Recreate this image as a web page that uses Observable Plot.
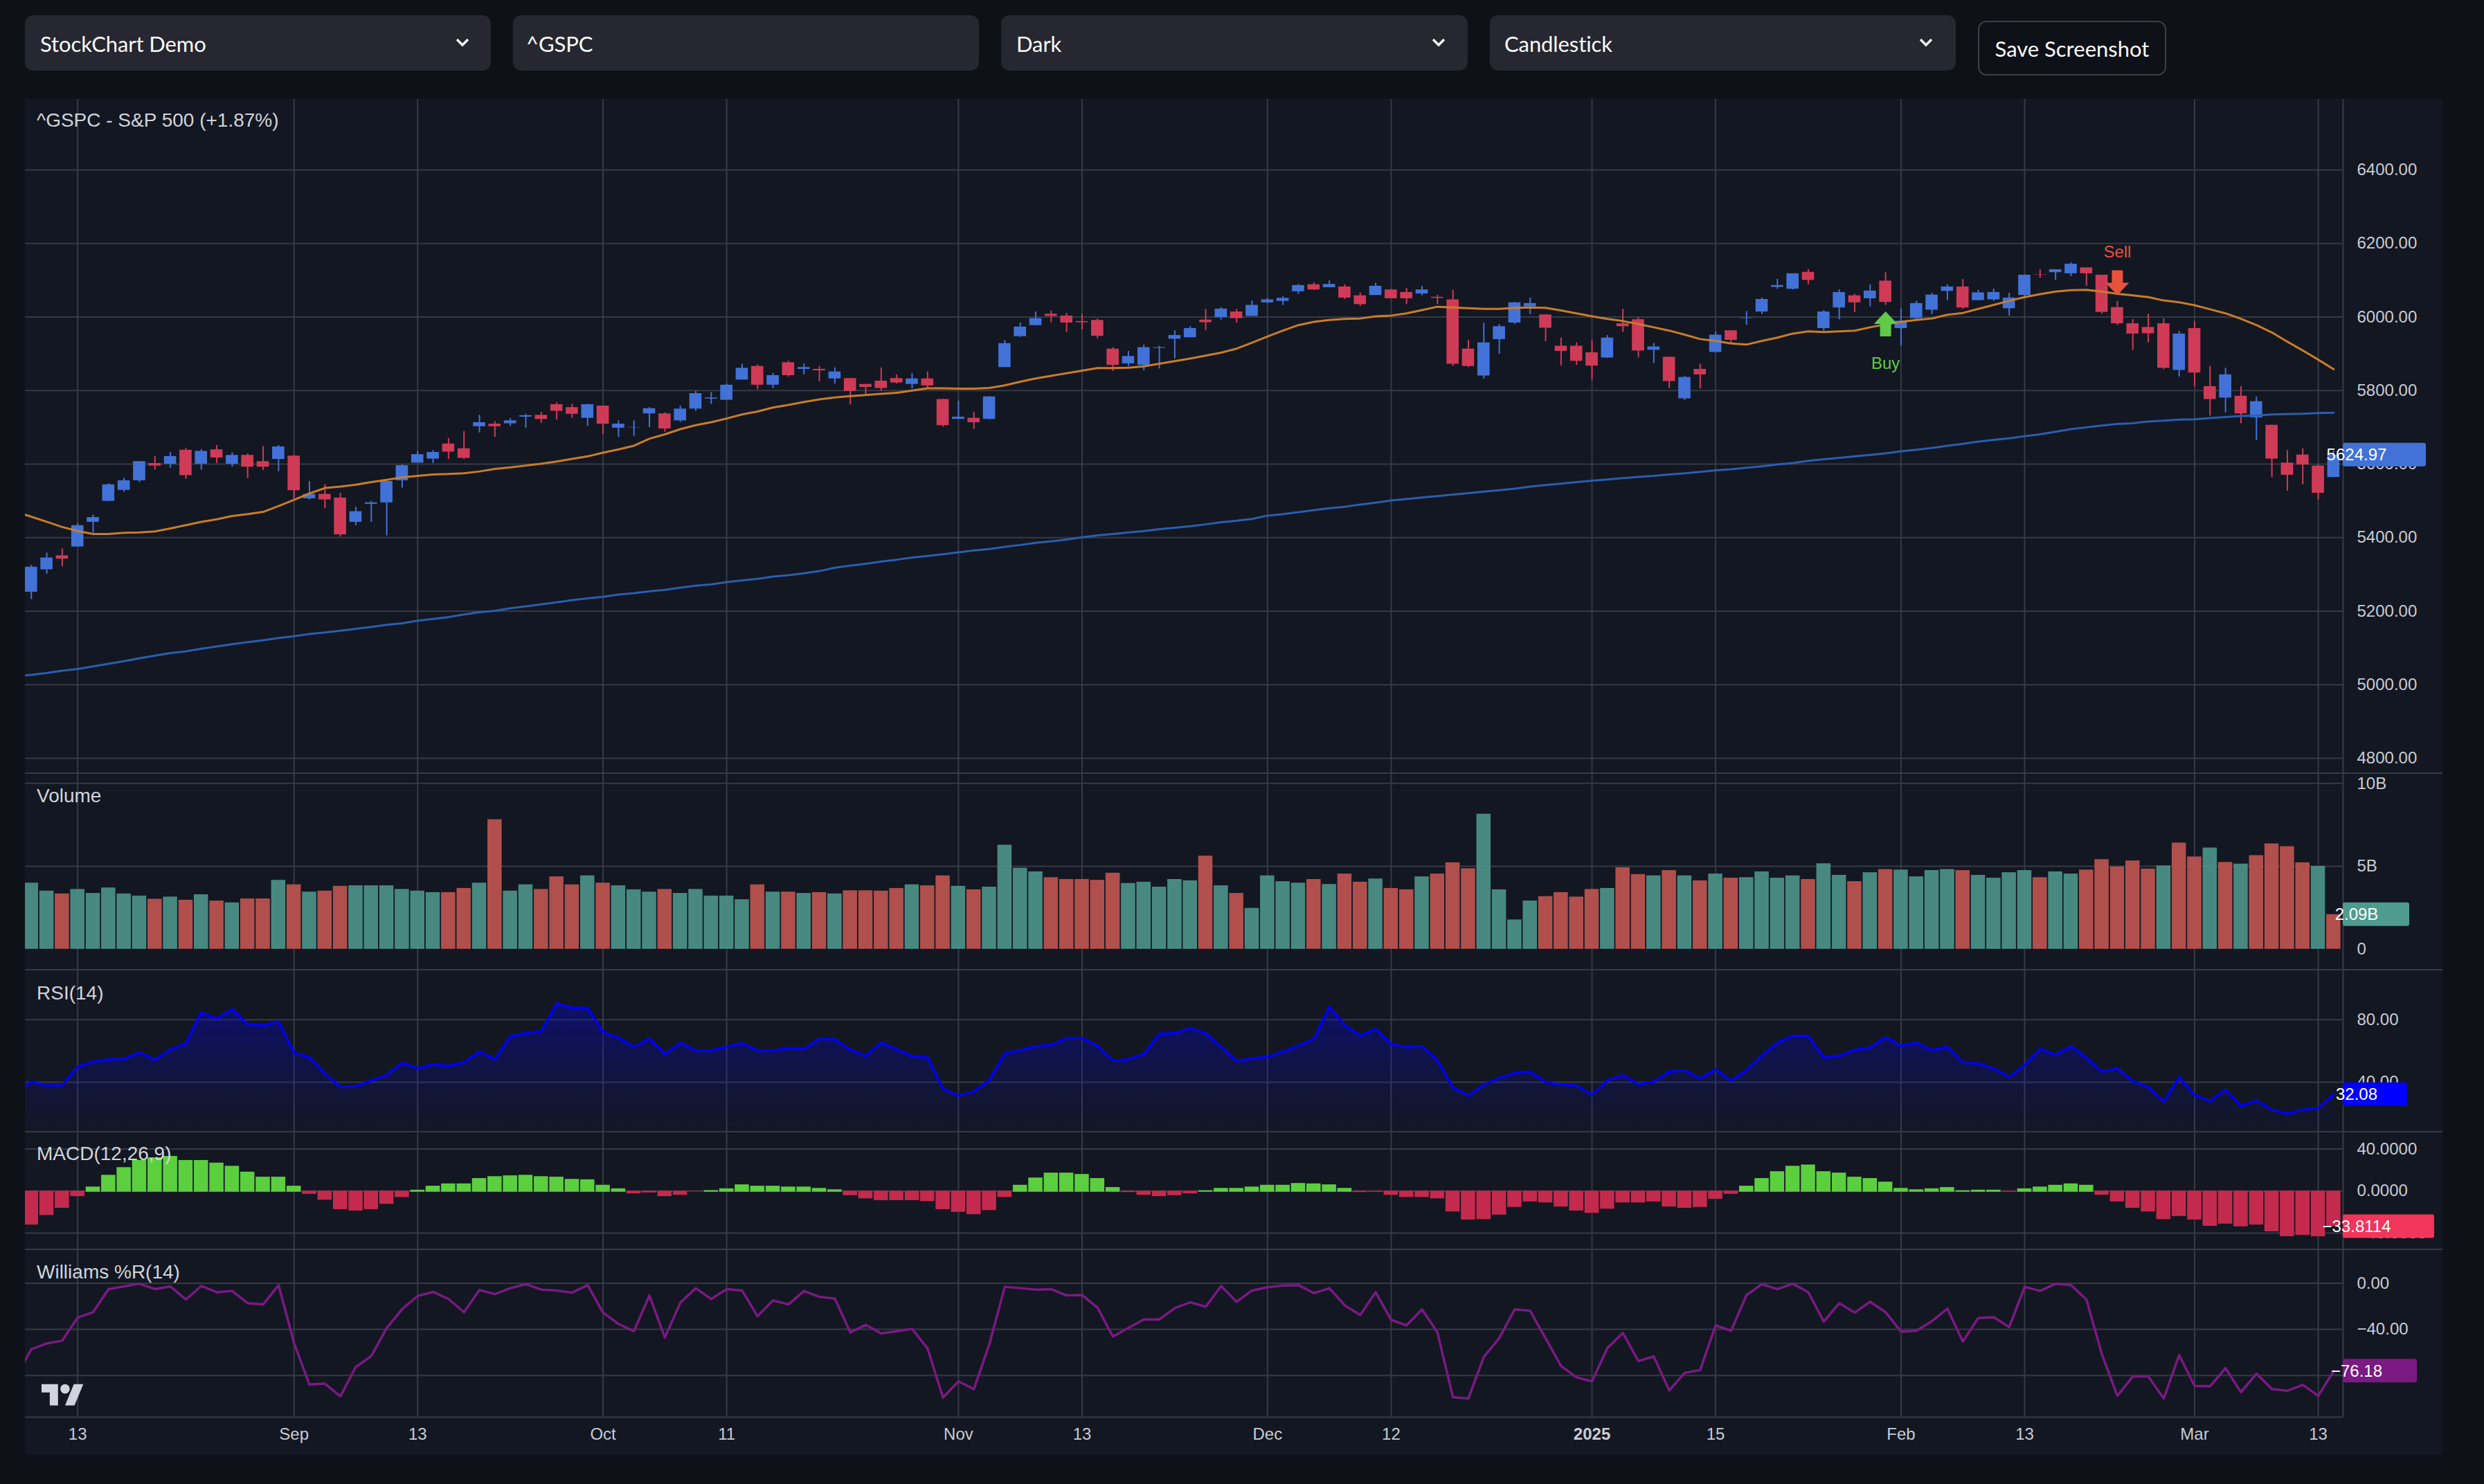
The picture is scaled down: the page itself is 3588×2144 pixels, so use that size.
<!DOCTYPE html>
<html>
<head>
<meta charset="utf-8">
<script src="https://cdn.jsdelivr.net/npm/d3@7"></script>
<script src="https://cdn.jsdelivr.net/npm/@observablehq/plot@0.6"></script>
<style>
html,body{margin:0;padding:0;background:#0e1117;width:3588px;height:2144px;overflow:hidden}
#page{position:relative;width:3588px;height:2144px}
.ctl{position:absolute;background:#262730;border-radius:12px;top:22px;height:80px;color:#fafafa;font:31px/82px Lato,sans-serif;box-sizing:border-box;letter-spacing:-.1px}
.ctl span{position:absolute;white-space:nowrap}
.ctl svg{position:absolute;top:32px}
#btn{position:absolute;left:2857px;top:30px;width:272px;height:79px;box-sizing:border-box;border:2px solid rgba(250,250,250,.2);border-radius:12px;color:#fafafa;font:31px/76px Lato,sans-serif;text-align:center}
#panel{position:absolute;left:36px;top:143px;width:3492px;height:1959px;background:#131722}
.pane{position:absolute;left:36px}
.sep{position:absolute;left:36px;width:3492px;height:2px;background:#363a45}
.title{position:absolute;left:53px;color:#d1d4dc;font:28px/32px "Liberation Sans",sans-serif;white-space:nowrap}
#logo{position:absolute;left:60px;top:1993px}
</style>
</head>
<body>
<div id="page">
  <div class="ctl" style="left:36px;width:673px"><span style="left:22px">StockChart Demo</span><svg style="left:622px" width="20" height="16"><path d="M2 3l8 8 8-8" fill="none" stroke="#fafafa" stroke-width="3.4"/></svg></div>
  <div class="ctl" style="left:741px;width:673px"><span style="left:19px">^GSPC</span></div>
  <div class="ctl" style="left:1446px;width:674px"><span style="left:22px">Dark</span><svg style="left:622px" width="20" height="16"><path d="M2 3l8 8 8-8" fill="none" stroke="#fafafa" stroke-width="3.4"/></svg></div>
  <div class="ctl" style="left:2152px;width:673px"><span style="left:21px">Candlestick</span><svg style="left:620px" width="20" height="16"><path d="M2 3l8 8 8-8" fill="none" stroke="#fafafa" stroke-width="3.4"/></svg></div>
  <div id="btn">Save Screenshot</div>
  <div id="panel"></div>
</div>
<script>
// Daily OHLC, first bar 8 Aug 2024, last bar 14 Mar 2025
const opens = [5252,5313,5351,5375,5442,5499,5529,5555,5602,5600,5638,5600,5639,5600,5624,5607,5613,5622,5506,5518,5508,5442,5491,5495,5555,5603,5614,5655,5642,5702,5709,5710,5728,5733,5762,5754,5725,5758,5698,5699,5737,5737,5718,5750,5777,5774,5829,5866,5815,5876,5858,5858,5832,5833,5817,5826,5833,5817,5832,5776,5722,5725,5722,5863,5947,5977,6008,6003,5988,5991,5913,5873,5869,5915,5940,5944,5992,5999,6014,6002,6039,6043,6069,6088,6080,6082,6058,6059,6074,6067,6063,6054,6047,5913,5840,5939,5984,6028,6006,5921,5921,5903,5889,5982,5993,5910,5891,5778,5858,5904,5963,5996,6014,6081,6076,6122,5969,6025,6058,6050,6098,5969,5996,6019,6070,6082,6045,6047,6023,6059,6115,6121,6118,6134,6114,6026,5982,5972,5982,5855,5969,5811,5780,5785,5726,5706,5603,5625,5595,5564];
const highs = [5325,5358,5370,5438,5462,5547,5562,5607,5621,5632,5643,5640,5651,5631,5628,5648,5651,5624,5553,5544,5521,5483,5499,5553,5599,5635,5637,5670,5689,5733,5716,5724,5736,5741,5767,5763,5763,5758,5718,5718,5754,5740,5758,5798,5795,5818,5872,5870,5847,5880,5873,5866,5862,5833,5817,5862,5843,5847,5851,5776,5772,5741,5784,5936,5984,6014,6017,6010,6007,5995,5917,5907,5924,5921,5963,5974,6021,6026,6021,6044,6051,6055,6089,6093,6099,6088,6066,6092,6075,6078,6084,6059,6073,5937,5984,5980,6040,6052,6007,5943,5930,5936,5950,6021,5999,5928,5891,5839,5872,5959,5963,6015,6052,6103,6118,6129,6018,6074,6062,6088,6121,6022,6043,6065,6088,6102,6073,6076,6065,6115,6129,6129,6148,6134,6114,6043,5993,6008,5995,5961,5988,5866,5861,5811,5783,5706,5637,5642,5598,5636];
const lows = [5232,5301,5321,5375,5413,5498,5524,5550,5584,5589,5559,5584,5602,5592,5561,5583,5580,5506,5503,5479,5402,5433,5442,5405,5535,5603,5602,5613,5613,5685,5673,5703,5698,5711,5720,5725,5703,5681,5673,5676,5700,5687,5714,5744,5763,5774,5829,5803,5806,5837,5843,5824,5818,5761,5785,5799,5818,5805,5806,5701,5722,5695,5721,5863,5945,5976,5985,5959,5965,5941,5852,5866,5854,5859,5887,5944,5963,5992,5984,6002,6037,6032,6062,6073,6080,6048,6029,6059,6050,6034,6058,6034,5866,5863,5832,5899,5980,6007,5933,5867,5869,5829,5888,5959,5889,5874,5806,5773,5805,5904,5928,5978,6007,6076,6074,6088,5962,5993,6013,6028,6032,5922,5991,6007,6045,6021,6044,6043,6003,6051,6106,6100,6110,6084,6008,5977,5909,5930,5857,5837,5810,5731,5740,5710,5665,5564,5527,5544,5503,5564];
const closes = [5320,5345,5342,5433,5455,5544,5555,5607,5595,5621,5569,5635,5617,5624,5592,5592,5647,5528,5518,5503,5408,5471,5495,5553,5596,5626,5632,5633,5616,5713,5702,5718,5732,5722,5744,5736,5762,5709,5709,5700,5751,5696,5750,5792,5780,5815,5861,5815,5841,5841,5863,5854,5851,5798,5809,5806,5821,5832,5813,5705,5728,5713,5783,5928,5973,5996,6002,5984,5985,5948,5869,5893,5917,5917,5950,5969,5985,6022,5996,6032,6047,6051,6086,6074,6089,6052,6034,6084,6050,6050,6074,6051,5872,5866,5930,5974,6039,6037,5970,5907,5880,5867,5943,5974,5908,5919,5825,5836,5843,5951,5937,5997,6048,6086,6118,6100,6014,6067,6039,6071,6040,5989,6037,6060,6082,6025,6066,6067,6052,6114,6114,6129,6144,6118,6013,5982,5954,5955,5861,5954,5848,5776,5843,5737,5770,5614,5570,5598,5521,5625];
// Moving averages; the first value belongs to the bar before the first visible candle
const maFast = [5470,5457,5443,5429,5418,5410,5410,5413,5414,5417,5425,5434,5443,5450,5459,5464,5470,5486,5503,5520,5535,5539,5544,5551,5557,5564,5568,5572,5573,5575,5580,5587,5591,5596,5601,5607,5614,5621,5631,5640,5650,5669,5681,5695,5706,5714,5724,5735,5743,5754,5761,5769,5776,5781,5785,5788,5791,5794,5800,5806,5806,5805,5805,5807,5814,5824,5833,5840,5847,5854,5861,5861,5862,5866,5873,5880,5887,5895,5903,5914,5930,5947,5963,5978,5987,5992,5995,5996,6002,6004,6010,6019,6028,6026,6024,6022,6022,6025,6026,6025,6018,6010,6002,5995,5989,5981,5972,5963,5952,5940,5935,5928,5925,5935,5944,5955,5961,5959,5961,5963,5972,5980,5987,5992,5996,6006,6011,6022,6033,6044,6054,6062,6069,6073,6074,6069,6063,6059,6054,6045,6040,6032,6021,6010,5995,5978,5958,5933,5909,5884,5858];
const maSlow = [5023,5027,5032,5038,5043,5050,5057,5064,5072,5079,5086,5091,5098,5104,5110,5116,5121,5127,5132,5138,5142,5147,5152,5157,5163,5167,5174,5179,5184,5191,5197,5201,5208,5213,5219,5224,5230,5235,5239,5245,5249,5254,5258,5264,5269,5273,5279,5284,5288,5294,5298,5303,5309,5318,5324,5329,5335,5340,5346,5350,5355,5360,5365,5369,5375,5380,5386,5390,5395,5401,5406,5410,5414,5418,5423,5427,5431,5436,5442,5446,5451,5460,5464,5469,5475,5480,5484,5490,5495,5501,5505,5509,5513,5517,5521,5525,5529,5533,5539,5543,5547,5551,5555,5558,5562,5565,5568,5572,5575,5579,5583,5586,5590,5594,5599,5603,5609,5613,5617,5621,5625,5629,5635,5639,5644,5650,5655,5661,5666,5670,5676,5681,5688,5695,5700,5705,5709,5711,5716,5718,5721,5722,5725,5728,5731,5732,5735,5736,5737,5739,5740];
// Volume in billions and its bar colour class (T = teal, R = red)
const volumes = [3.99,3.51,3.34,3.61,3.37,3.70,3.34,3.21,3.02,3.15,2.96,3.29,2.91,2.80,3.04,3.04,4.16,3.89,3.45,3.51,3.80,3.83,3.83,3.83,3.61,3.51,3.42,3.42,3.67,3.99,7.82,3.51,3.89,3.61,4.37,3.89,4.43,3.99,3.83,3.59,3.45,3.61,3.37,3.61,3.21,3.21,2.99,3.89,3.45,3.45,3.37,3.42,3.34,3.53,3.53,3.51,3.67,3.89,3.83,4.43,3.80,3.59,3.75,6.28,4.89,4.67,4.32,4.21,4.21,4.16,4.59,3.97,4.05,3.75,4.21,4.13,5.62,3.83,3.37,2.47,4.43,4.08,3.99,4.21,3.91,4.54,4.05,4.24,3.67,3.59,4.37,4.54,5.22,4.86,8.15,3.59,1.77,2.91,3.18,3.42,3.15,3.61,3.67,4.92,4.51,4.43,4.75,4.43,4.13,4.54,4.29,4.32,4.67,4.29,4.43,4.21,5.16,4.46,4.08,4.62,4.81,4.78,4.37,4.75,4.81,4.75,4.46,4.29,4.62,4.75,4.32,4.67,4.54,4.78,5.41,4.97,5.33,4.84,5.03,6.41,5.57,6.11,5.24,5.14,5.65,6.36,6.19,5.22,5.00,2.09];
const volumeSide = "TTRTTTTTRTRTRTRRTRTRRTTTTTTRRTRTTRRRTRTTTRTTTTTRTRTRTRRRRTRRTRTTTTRRRRRTTTTTRTRTTTTRTRRTRRTRRRTTTTRRRRTRRTRTRTRTTTTRTTRTRTTTTRTTTTRTTRRRRRTRRTRTRRRRT";
// Indicators; the first RSI and Williams value belongs to the bar before the first visible candle
const rsi = [33.6,40.3,37.7,38.0,49.9,53.0,54.5,54.8,59.1,54.2,60.9,64.9,84.6,80.6,86.7,77.1,76.2,78.8,58.8,55.9,45.5,36.8,37.4,40.9,44.6,52.2,49.0,51.3,50.4,52.5,59.7,54.5,69.3,71.3,72.5,90.4,87.5,87.5,72.2,68.4,62.6,67.8,58.0,65.2,60.3,60.3,62.6,64.9,60.3,60.3,61.5,61.2,67.8,67.3,60.9,56.8,65.2,60.9,56.5,55.7,35.7,31.3,33.9,41.2,58.3,60.3,62.9,63.8,68.1,68.1,63.2,53.6,54.5,58.0,71.0,71.3,74.5,71.3,62.6,53.6,55.1,56.2,59.4,63.2,67.8,88.1,76.5,69.6,73.9,64.6,62.3,62.9,53.9,36.5,31.3,38.3,42.6,45.8,46.7,40.0,38.3,37.7,31.9,41.2,44.3,38.6,40.3,46.7,47.5,42.3,48.1,40.9,47.5,57.1,65.2,69.6,69.6,55.7,56.8,60.6,62.0,68.7,63.2,65.2,60.3,62.6,52.5,51.9,48.7,43.2,51.0,61.2,57.4,62.9,55.4,46.7,48.7,40.6,36.8,27.5,43.2,31.6,27.8,35.1,24.6,28.1,22.3,19.7,22.3,23.2,32.08];
const macd = [-32.3,-23.2,-16.3,-5.2,3.9,15.1,22.4,29.2,31.8,33.1,29.2,29.2,26.7,23.7,18.1,13.3,13.3,4.7,-3.0,-8.6,-17.6,-18.9,-17.6,-12.5,-6.0,0.9,4.7,6.9,6.9,12.0,13.8,14.6,15.1,13.8,13.3,11.2,10.8,5.6,2.2,-2.6,-1.7,-5.2,-3.9,-0.4,0.5,2.2,6.0,4.7,4.7,3.9,3.9,2.6,1.3,-4.3,-7.3,-9.0,-9.0,-9.0,-9.9,-17.6,-20.2,-22.4,-18.5,-6.0,5.6,12.5,17.2,17.2,15.9,12.0,3.4,-1.3,-3.9,-5.2,-4.3,-2.6,0.4,2.6,2.6,3.9,5.6,5.6,7.3,6.9,6.0,2.6,-1.3,-0.9,-3.9,-6.0,-6.0,-7.3,-19.8,-27.5,-27.1,-22.8,-15.5,-10.3,-11.2,-15.1,-18.9,-21.1,-17.2,-11.2,-11.2,-10.3,-15.1,-16.3,-15.5,-7.7,-3.0,4.7,12.0,18.5,23.7,24.9,18.5,17.2,13.3,12.0,8.6,2.6,1.3,2.2,3.4,0.4,0.9,0.9,-0.9,2.2,3.9,5.6,6.9,5.6,-3.9,-10.3,-16.3,-19.8,-27.1,-24.1,-27.5,-33.5,-31.4,-34.0,-32.3,-38.7,-43.4,-42.1,-43.4,-33.8114];
const williams = [-81,-57.3,-52.2,-49.8,-29.8,-25.1,-5.1,-2.7,-0.4,-5.1,-2.7,-14.1,-2.4,-7.8,-6.7,-17.3,-18.4,-1.6,-51.8,-87.9,-87.1,-98.1,-72.6,-63.1,-38.8,-22.4,-11.0,-7.5,-13.7,-25.1,-5.9,-9.4,-4.3,-0.8,-5.5,-6.3,-8.2,-1.6,-25.5,-35.3,-41.6,-10.6,-47.1,-16.9,-4.3,-13.7,-5.1,-6.3,-28.6,-14.9,-18.4,-6.7,-11.8,-13.3,-42.7,-36.1,-43.5,-41.6,-39.6,-56.5,-99.2,-85.1,-91.8,-52.9,-3.1,-4.3,-5.5,-5.1,-10.6,-10.2,-21.2,-46.3,-38.8,-31.4,-31.4,-21.6,-16.5,-20.4,-2.4,-16.1,-6.3,-3.5,-2.0,-1.6,-8.6,-4.3,-19.2,-27.5,-7.8,-31.8,-36.5,-22.7,-42.7,-98.8,-100,-63.9,-47.5,-22.7,-23.9,-47.8,-71.8,-81.6,-85.1,-56.1,-43.1,-67.5,-63.5,-93.0,-77.7,-75.3,-36.5,-41.2,-10.2,-0.8,-5.1,-0.4,-7.8,-33.3,-17.3,-25.5,-16.1,-25.1,-42.0,-41.2,-32.9,-22.0,-50.6,-30.2,-29.4,-38.0,-3.1,-6.7,-0.4,-1.6,-14.1,-61.6,-97.7,-80.8,-80.8,-100,-62.4,-89.0,-89.4,-73.7,-94.5,-78.4,-91.8,-93.3,-88.2,-97.7,-76.18];
// Time axis: bar position and its label
const timeTicks = [3,17,25,37,45,60,68,80,88,101,109,121,129,140,148];
const timeLabels = ["13","Sep","13","Oct","11","Nov","13","Dec","12","2025","15","Feb","13","Mar","13"];
const priceTicks = [4800,5000,5200,5400,5600,5800,6000,6200,6400];
const volumeTicks = [0,5,10];
const rsiTicks = [40,80];
const macdTicks = [-40,0,40];
const williamsTicks = [-80,-40,0];
// Signals: bar, vertical centre of the arrow, caption level
const buySignal = {bar:120, price:5981, caption:5873, text:"Buy"};
const sellSignal = {bar:135, price:6093, caption:6176, text:"Sell"};
const lastPrice = 5624.97, lastVolume = 2.09, lastRsi = 32.08, lastMacd = -33.8114, lastWilliams = -76.18;

const UP="#4272d7", DOWN="#cf3b56", GRID="#363a45", AXIS="#c9ccd4";
const FONT='"Liberation Sans",Arial,sans-serif';
const xDomain=[-0.392,149.61];
const bars=opens.map((o,i)=>({i,o,h:highs[i],l:lows[i],c:closes[i],up:closes[i]>=o}));
const vols=volumes.map((v,i)=>({i,v,up:volumeSide[i]==="T"}));
const mac=macd.map((v,i)=>({i,v}));
const withLead=a=>a.map((v,k)=>({i:k-1,v}));

function grids(yTicks){return [
  Plot.gridX(timeTicks,{stroke:GRID,strokeOpacity:1,strokeWidth:2}),
  Plot.gridY(yTicks,{stroke:GRID,strokeOpacity:1,strokeWidth:2})
];}
function yAxis(ticks,fmt){return Plot.axisY({anchor:"right",ticks,tickSize:0,tickPadding:20,tickFormat:fmt,fontSize:24,fill:AXIS,label:null,textAnchor:"start"});}
function rightEdge(){return Plot.ruleX([xDomain[1]],{stroke:GRID,strokeWidth:2});}
function tag(value,label,fill,w){
  return (idx,scales)=>{
    const y=scales.y(value), x=scales.x(xDomain[1]);
    const g=d3.create("svg:g");
    g.append("rect").attr("x",x).attr("y",y-17).attr("width",w).attr("height",34).attr("rx",3).attr("fill",fill);
    g.append("text").attr("x",x+20).attr("y",y).attr("dy","0.36em").attr("fill","#fff").attr("font-size",24).attr("font-family",FONT).text(label);
    return g.node();
  };
}
function pane(top,height,yDomain,marks,extra={}){
  const p=Plot.plot({
    width:3492,height,marginLeft:0,marginRight:144,marginTop:0,marginBottom:extra.marginBottom||0,
    x:{domain:xDomain,axis:null},
    y:{domain:yDomain,axis:null},
    style:{background:"transparent",overflow:"visible",fontFamily:FONT},
    marks
  });
  const d=document.createElement("div");d.className="pane";d.style.top=top+"px";d.appendChild(p);
  document.getElementById("page").appendChild(d);
}
const upSym={draw(c){c.moveTo(0,-18);c.lineTo(17,0);c.lineTo(8,0);c.lineTo(8,18);c.lineTo(-8,18);c.lineTo(-8,0);c.lineTo(-17,0);c.closePath();}};
const downSym={draw(c){c.moveTo(0,18);c.lineTo(17,0);c.lineTo(8,0);c.lineTo(8,-18);c.lineTo(-8,-18);c.lineTo(-8,0);c.lineTo(-17,0);c.closePath();}};
const candleMarks=(flag,col)=>[
  Plot.ruleX(bars,{filter:d=>d.up===flag,x:"i",y1:"l",y2:"h",stroke:col,strokeWidth:2,clip:true}),
  Plot.rect(bars,{filter:d=>d.up===flag,x1:d=>d.i-.395,x2:d=>d.i+.395,y1:"o",y2:"c",fill:col,clip:true})
];

// price pane
pane(143,973,[4760.5,6592],[
  ...grids(priceTicks),rightEdge(),
  yAxis(priceTicks,d3.format(".2f")),
  ...candleMarks(true,UP),...candleMarks(false,DOWN),
  Plot.line(withLead(maSlow),{x:"i",y:"v",stroke:"#2a5eae",strokeWidth:3,clip:true}),
  Plot.line(withLead(maFast),{x:"i",y:"v",stroke:"#c97d28",strokeWidth:3,clip:true}),
  Plot.dot([buySignal],{x:"bar",y:"price",r:18,symbol:upSym,fill:"#5fcb47",stroke:"none"}),
  Plot.dot([sellSignal],{x:"bar",y:"price",r:18,symbol:downSym,fill:"#e5533c",stroke:"none"}),
  Plot.text([buySignal],{x:"bar",y:"caption",text:"text",fill:"#5fcb47",fontSize:24}),
  Plot.text([sellSignal],{x:"bar",y:"caption",text:"text",fill:"#e5533c",fontSize:24}),
  tag(lastPrice,"5624.97",UP,120)
]);
// volume pane
pane(1116,285,[-1.26,10.64],[
  Plot.gridX(timeTicks,{stroke:GRID,strokeOpacity:1,strokeWidth:2}),
  Plot.gridY([5,10],{stroke:GRID,strokeOpacity:1,strokeWidth:2}),rightEdge(),
  yAxis(volumeTicks,d=>d===0?"0":d+"B"),
  Plot.rect(vols,{filter:d=>d.up,x1:d=>d.i-.46,x2:d=>d.i+.46,y1:()=>0,y2:"v",fill:"#4a8f86",fillOpacity:.95,clip:true}),
  Plot.rect(vols,{filter:d=>!d.up,x1:d=>d.i-.46,x2:d=>d.i+.46,y1:()=>0,y2:"v",fill:"#b8524f",fillOpacity:.95,clip:true}),
  tag(lastVolume,"2.09B","#4f9c8f",96)
]);
// RSI pane
const rsiDefs=()=>{
  const s=d3.create("svg:defs");
  const g=s.append("linearGradient").attr("id","rsi-grad").attr("x1",0).attr("y1",0).attr("x2",0).attr("y2",1);
  g.append("stop").attr("offset",0).attr("stop-color","#0000ff").attr("stop-opacity",.32);
  g.append("stop").attr("offset",1).attr("stop-color","#0000ff").attr("stop-opacity",0);
  return s.node();
};
pane(1401,234,[8.03,111.8],[
  rsiDefs,
  ...grids(rsiTicks),rightEdge(),
  yAxis(rsiTicks,d3.format(".2f")),
  Plot.areaY(withLead(rsi),{x:"i",y1:()=>8.03,y2:"v",fill:"url(#rsi-grad)",clip:true}),
  Plot.line(withLead(rsi),{x:"i",y:"v",stroke:"#0000ff",strokeWidth:3.5,clip:true,curve:"linear"}),
  tag(lastRsi,"32.08","#0000ff",93)
]);
// MACD pane
pane(1635,170,[-55.9,56.2],[
  ...grids(macdTicks),rightEdge(),
  yAxis(macdTicks,d3.format(".4f")),
  Plot.rect(mac,{filter:d=>d.v>=0,x1:d=>d.i-.46,x2:d=>d.i+.46,y1:()=>-1,y2:"v",fill:"#5ccf3f",clip:true}),
  Plot.rect(mac,{filter:d=>d.v<0,x1:d=>d.i-.46,x2:d=>d.i+.46,y1:()=>0,y2:"v",fill:"#c42a4d",clip:true}),
  tag(lastMacd,"\u221233.8114","#f2355a",132)
]);
// Williams pane + time axis
pane(1805,297,[-116.2,29.1],[
  ...grids(williamsTicks),rightEdge(),
  yAxis(williamsTicks,d3.format(".2f")),
  Plot.ruleY([-116.2],{stroke:GRID,strokeWidth:2}),
  Plot.axisX({anchor:"bottom",ticks:timeTicks.filter(t=>t!==101),tickSize:0,tickPadding:15,fontSize:24,fill:AXIS,label:null,tickFormat:t=>timeLabels[timeTicks.indexOf(t)]}),
  Plot.axisX({anchor:"bottom",ticks:[101],tickSize:0,tickPadding:15,fontSize:24,fontWeight:700,fill:AXIS,label:null,tickFormat:t=>timeLabels[timeTicks.indexOf(t)]}),
  Plot.line(withLead(williams),{x:"i",y:"v",stroke:"#7a1a82",strokeWidth:3.5,clip:true}),
  tag(lastWilliams,"\u221276.18","#7a1a82",107)
],{marginBottom:55});

const page=document.getElementById("page");
[1116,1400,1634,1804].forEach(t=>{const s=document.createElement("div");s.className="sep";s.style.top=t+"px";page.appendChild(s);});
[["^GSPC - S&P 500 (+1.87%)",158],["Volume",1134],["RSI(14)",1419],["MACD(12,26,9)",1651],["Williams %R(14)",1822]].forEach(([t,y])=>{
  const d=document.createElement("div");d.className="title";d.style.top=y+"px";d.textContent=t;page.appendChild(d);
});
const logo=document.createElementNS("http://www.w3.org/2000/svg","svg");
logo.setAttribute("id","logo");logo.setAttribute("width",62);logo.setAttribute("height",40);logo.setAttribute("viewBox","0 0 36.5 23.5");
logo.innerHTML='<path fill="#d1d4dc" d="M14 22H7V11H0V4h14v18zM28 22h-8l7.5-18h8L28 22z"/><circle fill="#d1d4dc" cx="20" cy="8" r="4"/>';
page.appendChild(logo);
</script>
</body>
</html>
